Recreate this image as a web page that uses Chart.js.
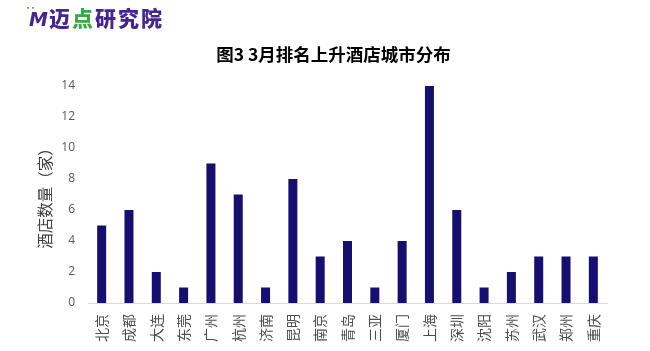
<!DOCTYPE html>
<html><head><meta charset="utf-8">
<script src="https://cdn.jsdelivr.net/npm/chart.js@4"></script>
<style>
html,body{margin:0;padding:0;background:#fff;}
#wrap{position:relative;width:650px;height:351px;}
#logo{position:absolute;left:29px;top:4px;font-family:"Noto Sans CJK SC";font-weight:900;font-size:21px;color:#45268a;line-height:26px;white-space:nowrap;letter-spacing:2px;}
#logo .g{color:#3aa845;}
#logo .m{font-style:italic;font-family:"DejaVu Sans";font-weight:bold;font-size:19px;letter-spacing:0;margin-right:1px;}
#logo .d{position:absolute;left:-4px;top:-1px;font-size:6px;letter-spacing:-1px;line-height:10px;}
</style></head><body>
<div id="wrap">
<div id="logo"><span class="g d">▪▪</span><span class="m">M</span>迈<span class="g">点</span>研究院</div>
<canvas id="c" width="650" height="351"></canvas>
</div>
<script>
const categories = ["北京","成都","大连","东莞","广州","杭州","济南","昆明","南京","青岛","三亚","厦门","上海","深圳","沈阳","苏州","武汉","郑州","重庆"];
const values = [5,6,2,1,9,7,1,8,3,4,1,4,14,6,1,2,3,3,3];
const yTicks = [0,2,4,6,8,10,12,14];
const titleText = "图3 3月排名上升酒店城市分布";
const yTitle = "酒店数量（家）";

new Chart(document.getElementById('c'), {
  type: 'bar',
  data: { labels: categories, datasets: [{ data: values, backgroundColor: '#170f6e', barPercentage: 0.33, categoryPercentage: 1.0 }] },
  options: {
    responsive: false, animation: false,
    layout: { padding: { left: 60, right: 43, top: 0, bottom: 0 } },
    plugins: {
      legend: { display: false }, tooltip: { enabled: false },
      title: { display: true, text: titleText, color: '#000', font: { family: 'Noto Sans CJK SC', size: 17.5, weight: 'bold' }, padding: { top: 44, bottom: 21 } }
    },
    scales: {
      x: {
        afterFit: (s) => { s.height = 48; },
        grid: { display: false, drawTicks: false },
        border: { display: true, color: '#d9d9d9', width: 1 },
        ticks: { color: '#4d4d4d', font: { family: 'Noto Sans CJK SC', size: 14 }, minRotation: 90, maxRotation: 90, padding: 11 }
      },
      y: {
        min: 0, max: 14,
        afterFit: (s) => { s.width = 28; },
        afterBuildTicks: (s) => { s.ticks = yTicks.map(v => ({ value: v })); },
        grid: { display: false, drawTicks: false },
        border: { display: false },
        ticks: { color: '#595959', font: { family: 'Open Sans', size: 12 }, padding: 13 },
        title: { display: true, text: yTitle, color: '#404040', font: { family: 'Noto Sans CJK SC', size: 15.5 }, padding: { top: -24.5, bottom: 0 } }
      }
    }
  }
});
</script>
</body></html>
